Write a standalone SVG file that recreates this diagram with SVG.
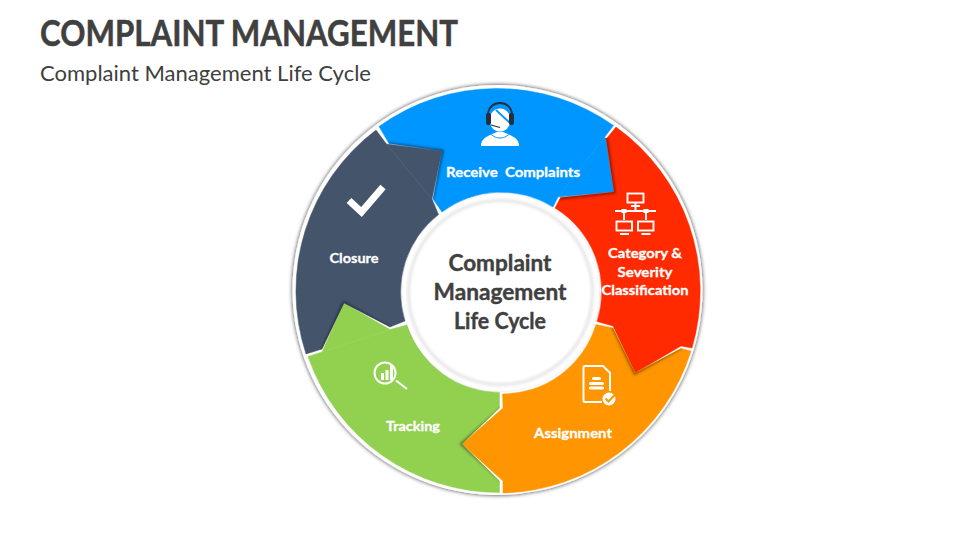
<svg xmlns="http://www.w3.org/2000/svg" width="960" height="540" viewBox="0 0 960 540">
<style>
text{font-family:Lato,"Liberation Sans",sans-serif;font-weight:700}
.title{font-size:36px;fill:#404040;stroke:#404040;stroke-width:.5}
.sub{font-size:21.5px;fill:#404040;font-weight:400}
.lab{font-size:14px;fill:#fff;stroke:#fff;stroke-width:.3;text-anchor:middle;white-space:pre}
.mid{font-size:22px;fill:#404040;stroke:#404040;stroke-width:.4;text-anchor:middle}
.hair{fill:none;stroke:#fff;stroke-opacity:.1;stroke-width:.7}
.sh{fill:none;stroke:#000;stroke-opacity:.5;stroke-width:3;filter:url(#blur)}
.ln{fill:none;stroke:#fff;stroke-width:2}
</style>
<defs>
<filter id="blur" x="-30%" y="-30%" width="160%" height="160%"><feGaussianBlur stdDeviation="1.6"/></filter>
<filter id="ds" x="-10%" y="-10%" width="120%" height="120%"><feDropShadow dx="0" dy="0" stdDeviation="2.200" flood-color="#000" flood-opacity=".8"/></filter>
<filter id="ds2" x="-10%" y="-10%" width="120%" height="120%"><feDropShadow dx="0" dy="0" stdDeviation="1" flood-color="#000" flood-opacity=".15"/></filter>
<path id="p-blue" d="M379,126.5A202 202 0 0 1 613.5,125.5L604,138L606,138L614,192L558,197L553,207A98 98 0 0 0 442,212L433,199L442,151L389,143.5Z"/>
<path id="p-red" d="M616,127A202 202 0 0 1 692,348L681,346L635,373L613,326L597,321.5A98 98 0 0 0 555,208L560.5,197.5L614,192L606,138L607,138Z"/>
<path id="p-orange" d="M502.5,394A98 98 0 0 0 596,324.5L613,328L635,373L681,348.5L691,351A202 202 0 0 1 503,493L503,481L462,444L503,408Z"/>
<path id="p-green" d="M308,356.5L322,352L344,303L390,329.5L407,325A98 98 0 0 0 499.5,392.5L499.5,408L462,444L499.5,481L499.5,492.5A202 202 0 0 1 308,356.5Z"/>
<path id="p-closure" d="M376,130L386.5,144L442,151L432,199L438.5,214.5A98 98 0 0 0 405,321L390,327L344,303L322,349L306,354A202 202 0 0 1 376,130Z"/>
<clipPath id="c-blue"><use href="#p-blue"/></clipPath>
<clipPath id="c-red"><use href="#p-red"/></clipPath>
<clipPath id="c-orange"><use href="#p-orange"/></clipPath>
<clipPath id="c-green"><use href="#p-green"/></clipPath>
<clipPath id="c-closure"><use href="#p-closure"/></clipPath>
</defs>
<rect width="960" height="540" fill="#fff"/>
<g id="heading">
<text class="title" x="40" y="45.500" textLength="418" lengthAdjust="spacingAndGlyphs">COMPLAINT MANAGEMENT</text>
<text class="sub" x="40" y="80.500" textLength="331" lengthAdjust="spacingAndGlyphs">Complaint Management Life Cycle</text>
</g>
<circle id="ring" cx="497.500" cy="290" r="205" fill="#fff" filter="url(#ds)"/>
<g id="receive">
<use href="#p-blue" fill="#0096ff" stroke="#0096ff" stroke-width=".5"/>
<path class="hair" d="M604,138L558,197"/>
<path d="M481,146C481,139 486,137 492,134L497,132L503,132L508,134C514,137 519,139 519,146Z" fill="#fff"/>
<path d="M490,133.500C494,137 497,138 500,138C503,138 506,137 510,133.500" fill="none" stroke="#0096ff" stroke-width="1"/>
<ellipse cx="500" cy="120" rx="10.500" ry="11.500" fill="#fff"/>
<path d="M496,110L510,123" stroke="#0096ff" stroke-width="1.800" fill="none"/>
<path d="M488,115C488,99 512,99 512,115" fill="none" stroke="#222f3e" stroke-width="1.800"/>
<rect x="486" y="113" width="5" height="12" rx="2" fill="#222f3e"/>
<rect x="509" y="113" width="5" height="12" rx="2" fill="#222f3e"/>
<path d="M491,125L500,127.500" stroke="#222f3e" stroke-width="1.200" fill="none"/>
<text class="lab" x="513" y="177" textLength="134" lengthAdjust="spacingAndGlyphs">Receive  Complaints</text>
</g>
<g id="category">
<use href="#p-red" fill="#ff2a00" stroke="#ff2a00" stroke-width=".5"/>
<g fill="none" stroke="#fff" stroke-width="1.900">
<rect x="627.500" y="193.500" width="16" height="9"/>
<rect x="616.500" y="221.500" width="15.500" height="9"/>
<rect x="638" y="221.500" width="15.500" height="9"/>
<path d="M615,211H656M624,211V220M646,211V220M635.500,203V211"/>
<path d="M631,206H640M620,234H629M641.500,234H650.500"/>
</g>
<rect x="621.500" y="209" width="5" height="4" fill="#fff"/>
<rect x="643.500" y="209" width="5" height="4" fill="#fff"/>
<text class="lab" x="645" y="258" textLength="74" lengthAdjust="spacingAndGlyphs">Category &amp;</text>
<text class="lab" x="645" y="277" textLength="55" lengthAdjust="spacingAndGlyphs">Severity</text>
<text class="lab" x="645" y="295" textLength="87" lengthAdjust="spacingAndGlyphs">Classification</text>
</g>
<g id="assignment">
<use href="#p-orange" fill="#ff9500" stroke="#ff9500" stroke-width=".5"/>
<path class="hair" d="M503,408V481"/>
<path d="M602,402H585Q583.500,402 583.500,400.500V367.500Q583.500,366 585,366H603L610,373V391" fill="none" stroke="#fff" stroke-width="2"/>
<rect x="592" y="377" width="9" height="3" rx="1.500" fill="#fff"/>
<rect x="589" y="382" width="15" height="3" rx="1.500" fill="#fff"/>
<rect x="589" y="386.500" width="15" height="3" rx="1.500" fill="#fff"/>
<circle cx="609" cy="399" r="6.500" fill="#fff"/>
<path d="M605.500,398.500L608.500,401.500L616,393.500" fill="none" stroke="#ff9500" stroke-width="2"/>
<text class="lab" x="573" y="438" textLength="78" lengthAdjust="spacingAndGlyphs">Assignment</text>
</g>
<g id="tracking">
<use href="#p-green" fill="#92d050" stroke="#92d050" stroke-width=".5"/>
<path class="hair" d="M322,352L390,329.500"/>
<circle cx="385" cy="373" r="10.500" class="ln"/>
<path class="ln" d="M396,380.500L407,389"/>
<rect x="381" y="373" width="3" height="7" fill="#fff"/>
<rect x="385.500" y="370" width="3" height="10" fill="#fff"/>
<rect x="390" y="365.500" width="3" height="14.500" fill="#fff"/>
<text class="lab" x="413" y="431" textLength="54" lengthAdjust="spacingAndGlyphs">Tracking</text>
</g>
<g id="closure">
<use href="#p-closure" fill="#44546a" stroke="#44546a" stroke-width=".5"/>
<path class="hair" d="M386.500,144L432,199"/>
<path d="M349,200.500L361.500,212L383,187" fill="none" stroke="#fff" stroke-width="7"/>
<text class="lab" x="354" y="263" textLength="49" lengthAdjust="spacingAndGlyphs">Closure</text>
</g>
<g id="head-shadows">
<g clip-path="url(#c-blue)"><path class="sh" d="M386.500,144L442,151L432,199"/></g>
<g clip-path="url(#c-red)"><path class="sh" d="M606,138L614,192L559,198"/></g>
<g clip-path="url(#c-orange)"><path class="sh" d="M613,326L635,373L681,347"/></g>
<g clip-path="url(#c-green)"><path class="sh" d="M503,408L462,444L503,481"/></g>
<g clip-path="url(#c-closure)"><path class="sh" d="M322,352L344,303L390,329"/></g>
</g>
<g id="center">
<circle cx="500.500" cy="292.500" r="98.500" fill="#fff" filter="url(#ds2)"/>
<circle cx="500.500" cy="292.500" r="92" fill="none" stroke="#e0e0e0" stroke-width="2.500" filter="url(#blur)"/>
<text class="mid" x="500" y="270.500" textLength="103" lengthAdjust="spacingAndGlyphs">Complaint</text>
<text class="mid" x="500" y="300" textLength="133" lengthAdjust="spacingAndGlyphs">Management</text>
<text class="mid" x="500" y="328.500" textLength="92" lengthAdjust="spacingAndGlyphs">Life Cycle</text>
</g>
</svg>
